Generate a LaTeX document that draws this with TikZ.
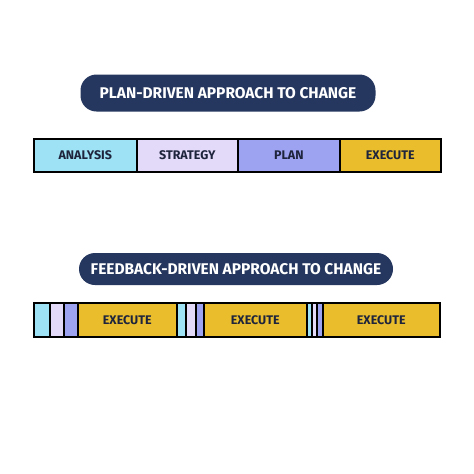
\documentclass[tikz,border=0pt]{standalone}
\usepackage{fontspec}
\setmainfont{Fira Sans}
\usepackage{tikz}
\usetikzlibrary{positioning,calc}
\definecolor{navycolor}{RGB}{37,55,95}
\definecolor{inkcolor}{RGB}{30,36,60}
\definecolor{analysiscolor}{RGB}{158,227,245}
\definecolor{strategycolor}{RGB}{227,217,249}
\definecolor{plancolor}{RGB}{157,163,240}
\definecolor{executecolor}{RGB}{233,189,44}

\tikzset{
    pill/.style={fill=navycolor, text=white, rounded corners=16pt,
        inner sep=0pt, font=\fontsize{15.5}{18}\selectfont\bfseries},
    segment/.style={draw=black, line width=1.6pt, inner sep=0pt,
        anchor=north west, text=inkcolor, font=\fontsize{12.5}{14}\selectfont\bfseries},
}

\begin{document}
\begin{tikzpicture}[x=1pt, y=-1pt]
    \useasboundingbox[fill=white] (0,0) rectangle (474,474);

    % plan-driven approach
    \node[pill, minimum width=295pt, minimum height=37pt] (plantitle) at (228,93)
        {PLAN-DRIVEN APPROACH TO CHANGE};
    \node[segment, fill=analysiscolor, minimum width=103pt, minimum height=33pt]
        (analysis) at (33,138) {ANALYSIS};
    \node[segment, fill=strategycolor, minimum width=101pt, minimum height=33pt]
        (strategy) at (136,138) {STRATEGY};
    \node[segment, fill=plancolor, minimum width=102pt, minimum height=33pt]
        (plan) at (237,138) {PLAN};
    \node[segment, fill=executecolor, minimum width=101pt, minimum height=33pt]
        (execute) at (339,138) {EXECUTE};

    % feedback-driven approach
    \node[pill, minimum width=314pt, minimum height=32pt] (feedtitle) at (236,269)
        {FEEDBACK-DRIVEN APPROACH TO CHANGE};
    \foreach \name/\x/\w/\col in {
        aone/33/16/analysiscolor, sone/49/14/strategycolor, pone/63/14/plancolor,
        atwo/176/9/analysiscolor, stwo/185/10/strategycolor, ptwo/195/8/plancolor,
        athree/306/5/analysiscolor, sthree/311/5/strategycolor, pthree/316/6/plancolor}
        \node[segment, fill=\col, minimum width=\w pt, minimum height=34pt]
            (\name) at (\x,302) {};
    \node[segment, fill=executecolor, minimum width=99pt, minimum height=34pt]
        (exone) at (77,302) {EXECUTE};
    \node[segment, fill=executecolor, minimum width=103pt, minimum height=34pt]
        (extwo) at (203,302) {EXECUTE};
    \node[segment, fill=executecolor, minimum width=117pt, minimum height=34pt]
        (exthree) at (322,302) {EXECUTE};
\end{tikzpicture}
\end{document}
